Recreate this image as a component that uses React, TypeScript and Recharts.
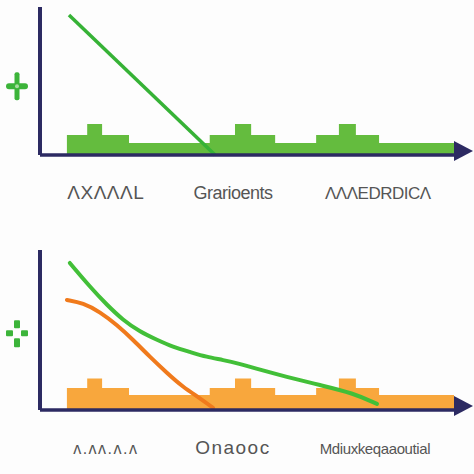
import {
  Area,
  ComposedChart,
  Label,
  Line,
  ReferenceDot,
  XAxis,
  YAxis,
} from "recharts";

// x runs 0..100 along the axis, y runs 0..100 up the axis
const stepX = [6.5, 11.4, 15, 21.5, 41, 47.1, 51, 56.8, 66.7, 72.2, 76.3, 81.9, 100];
const topStepLevels = [13.5, 21, 13.5, 8.1, 13.5, 21, 13.5, 8.1, 13.5, 21, 13.5, 8.1, 8.1];
const bottomStepLevels = [13.8, 19.7, 13.8, 9.4, 13.8, 19.7, 13.8, 9.4, 13.8, 19.7, 13.8, 9.4, 9.4];

const topLineX = [7, 42.3];
const topLineY = [94.6, 0];

const greenCurveX = [7.2, 12.1, 16.2, 20, 24.2, 28.3, 32.1, 36.2, 40.3, 44.2, 48.3, 51.4, 59.7, 67.6, 75.6, 81.4];
const greenCurveY = [91.9, 76.9, 65.6, 56.3, 48.8, 43.8, 39.4, 36.3, 33.1, 31.3, 28.8, 26.4, 20.6, 15.6, 10.6, 3.8];

const orangeCurveX = [6.5, 10.4, 14.5, 18.6, 22.5, 26.6, 30.7, 34.5, 38.6, 41.8];
const orangeCurveY = [68.8, 66.9, 61.3, 53.1, 43.8, 33.1, 23.1, 14.4, 7.5, 1.3];

const topTicks = [15.9, 46.6, 81.6];
const topLabels = ["ΛXΛΛΛL", "Grarioents", "ΛΛΛΕDRDICΛ"];
const bottomTicks = [15.9, 46.6, 80.9];
const bottomLabels = ["ʌ.ʌʌ.ʌ.ʌ", "Onaooc", "Mdiuxkeqaaoutial"];

const NAVY = "#2c2a62";
const FONT = "'Liberation Sans', Arial, sans-serif";

const zip = (xs: number[], ys: number[]) => xs.map((x, i) => ({ x, v: ys[i] }));

function Arrow(props: any) {
  const { cx, cy } = props;
  const c = cy - 4;
  return <path d={`M${cx},${c - 10} L${cx + 19},${c} L${cx},${c + 10} Z`} fill={NAVY} />;
}

function SolidCross(props: any) {
  const { viewBox } = props;
  const cx = viewBox.x - 22;
  const cy = viewBox.y + viewBox.height * 0.535;
  return (
    <g fill="#3cb43a">
      <rect x={cx - 2.5} y={cy - 14} width={5} height={28} rx={2} />
      <rect x={cx - 11} y={cy - 3} width={22} height={6} rx={3} />
      <circle cx={cx} cy={cy} r={2} fill="#a8dca0" />
    </g>
  );
}

function DottedCross(props: any) {
  const { viewBox } = props;
  const cx = viewBox.x - 22;
  const cy = viewBox.y + viewBox.height * 0.52;
  return (
    <g fill="#3cb43a">
      <rect x={cx - 3} y={cy - 13} width={6} height={8} rx={1} />
      <rect x={cx - 3} y={cy + 5} width={6} height={9} rx={1} />
      <rect x={cx - 11} y={cy - 3} width={7} height={6} rx={1} />
      <rect x={cx + 4} y={cy - 3} width={7} height={6} rx={1} />
    </g>
  );
}

function makeTick(labels: string[], sizes: number[], spacing: number[]) {
  return function Tick(props: any) {
    const { x, y, index } = props;
    return (
      <text
        x={x}
        y={y + 36}
        textAnchor="middle"
        fill="#555"
        fontFamily={FONT}
        fontSize={sizes[index]}
        letterSpacing={spacing[index]}
      >
        {labels[index]}
      </text>
    );
  };
}

const TopTick = makeTick(topLabels, [19, 18, 17], [0.5, -0.5, -0.5]);
const BottomTick = makeTick(bottomLabels, [16, 19, 15], [1.5, 1.5, -0.4]);

function Panel({
  top,
  xAxisHeight,
  steps,
  stepColor,
  ticks,
  Tick,
  Cross,
  children,
}: {
  top: number;
  xAxisHeight: number;
  steps: number[];
  stepColor: string;
  ticks: number[];
  Tick: any;
  Cross: any;
  children?: any;
}) {
  return (
    <ComposedChart width={474} height={237} margin={{ top, right: 20, bottom: 0, left: 39 }}>
      <XAxis
        type="number"
        dataKey="x"
        domain={[0, 100]}
        ticks={ticks}
        tick={<Tick />}
        tickLine={false}
        axisLine={{ stroke: NAVY, strokeWidth: 3.5 }}
        height={xAxisHeight}
        interval={0}
      />
      <YAxis
        type="number"
        domain={[0, 100]}
        width={1}
        tick={false}
        tickLine={false}
        axisLine={{ stroke: NAVY, strokeWidth: 4 }}
      >
        <Label content={<Cross />} />
      </YAxis>
      <Area
        data={zip(stepX, steps)}
        dataKey="v"
        type="stepAfter"
        fill={stepColor}
        fillOpacity={1}
        stroke="none"
        isAnimationActive={false}
      />
      {children}
      <ReferenceDot x={100} y={0} r={0} shape={<Arrow />} />
    </ComposedChart>
  );
}

export default function App() {
  return (
    <div style={{ position: "absolute", left: 0, top: 0, width: 474, height: 474, background: "#fdfdfd" }}>
      <Panel
        top={7}
        xAxisHeight={82}
        steps={topStepLevels}
        stepColor="#64bc3e"
        ticks={topTicks}
        Tick={TopTick}
        Cross={SolidCross}
      >
        <Line
          data={zip(topLineX, topLineY)}
          dataKey="v"
          type="linear"
          stroke="#36b236"
          strokeWidth={3.5}
          dot={false}
          isAnimationActive={false}
        />
      </Panel>
      <Panel
        top={13}
        xAxisHeight={64}
        steps={bottomStepLevels}
        stepColor="#f8a73d"
        ticks={bottomTicks}
        Tick={BottomTick}
        Cross={DottedCross}
      >
        <Line
          data={zip(orangeCurveX, orangeCurveY)}
          dataKey="v"
          type="basis"
          stroke="#f07a1c"
          strokeWidth={4}
          strokeLinecap="round"
          dot={false}
          isAnimationActive={false}
        />
        <Line
          data={zip(greenCurveX, greenCurveY)}
          dataKey="v"
          type="basis"
          stroke="#42bf38"
          strokeWidth={4}
          strokeLinecap="round"
          dot={false}
          isAnimationActive={false}
        />
      </Panel>
    </div>
  );
}
